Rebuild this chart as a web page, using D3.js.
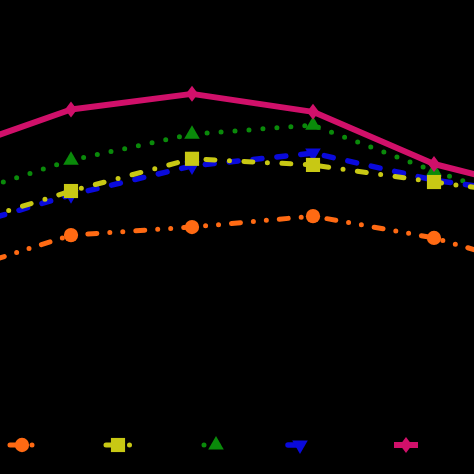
<!DOCTYPE html>
<html><head><meta charset="utf-8">
<script src="https://cdn.jsdelivr.net/npm/d3@7"></script>
<style>html,body{margin:0;padding:0;background:#000;}svg{display:block;}</style>
</head><body>
<svg id="c" width="474" height="474"></svg>
<script>
// categories (first and last fall outside the visible plot area)
const categories = [0, 1, 2, 3, 4, 5];
const seriesNames = ["A", "B", "C", "D", "E"];
const orangeVals  = [42.2, 50.4, 52.1, 54.4, 49.8, 42.4];
const yellowVals  = [51.7, 59.7, 66.5, 65.2, 61.6, 58.2];
const greenVals   = [58.0, 66.2, 71.7, 73.6, 63.9, 55.3];
const blueVals    = [51.3, 58.9, 65.0, 67.7, 62.0, 58.4];
const magentaVals = [67.9, 76.9, 80.2, 76.4, 65.4, 58.9];

const svg = d3.select("#c");
svg.append("rect").attr("width", 474).attr("height", 474).attr("fill", "#000");

const x = d3.scaleLinear().domain([0, 5]).range([-50, 555]);
const y = d3.scaleLinear().domain([0, 100]).range([474, 0]);

const diamond = (w, h) => `M0,${-h/2}L${w/2},0L0,${h/2}L${-w/2},0Z`;
const styles = {
  orange:  {color: "#ff6a13", width: 5, dash: "9,13,0,13,0,13", marker: "circle"},
  yellow:  {color: "#c8c814", width: 5, dash: "9,14.5,0,14.5", marker: "square"},
  green:   {color: "#0a8a0a", width: 5, dash: "0,14", marker: "triangle"},
  blue:    {color: "#0a0adc", width: 5.5, dash: "9,15", marker: "triangleDown"},
  magenta: {color: "#d0106a", width: 6, dash: null, marker: "diamond"}
};
function markerPath(m) {
  if (m === "circle") return d3.symbol(d3.symbolCircle, 160)();
  if (m === "square") return d3.symbol(d3.symbolSquare, 200)();
  if (m === "triangle" || m === "triangleDown") return d3.symbol(d3.symbolTriangle, 105)();
  return diamond(12, 16);
}

const series = [
  {key: "green", vals: greenVals, name: seriesNames[2]},
  {key: "blue", vals: blueVals, name: seriesNames[3]},
  {key: "orange", vals: orangeVals, name: seriesNames[0]},
  {key: "yellow", vals: yellowVals, name: seriesNames[1]},
  {key: "magenta", vals: magentaVals, name: seriesNames[4]}
];

const line = d3.line().x((d, i) => x(categories[i])).y(d => y(d));

series.forEach(s => {
  const st = styles[s.key];
  const g = svg.append("g");
  g.append("path").attr("d", line(s.vals)).attr("fill", "none")
    .attr("stroke", st.color).attr("stroke-width", st.width)
    .attr("stroke-linecap", "round").attr("stroke-linejoin", "round")
    .attr("stroke-dasharray", st.dash);
  g.selectAll("path.m").data(s.vals).join("path").attr("class", "m")
    .attr("d", markerPath(st.marker))
    .attr("transform", (d, i) => `translate(${x(categories[i])},${y(d)})` + (st.marker === "triangleDown" ? " rotate(180)" : ""))
    .attr("fill", st.color);
});

// legend
const legendOrder = ["orange", "yellow", "green", "blue", "magenta"];
const legendX = [22, 118, 216, 300, 406];
const legendY = 445;
legendOrder.forEach((k, i) => {
  const st = styles[k];
  const cx = legendX[i];
  const g = svg.append("g");
  g.append("line").attr("x1", cx - 12).attr("x2", cx + 12).attr("y1", legendY).attr("y2", legendY)
    .attr("stroke", st.color).attr("stroke-width", st.width)
    .attr("stroke-linecap", k === "magenta" ? "butt" : "round")
    .attr("stroke-dasharray", st.dash);
  g.append("path").attr("d", markerPath(st.marker))
    .attr("transform", `translate(${cx},${legendY})` + (st.marker === "triangleDown" ? " rotate(180)" : ""))
    .attr("fill", st.color);
});
</script>
</body></html>
